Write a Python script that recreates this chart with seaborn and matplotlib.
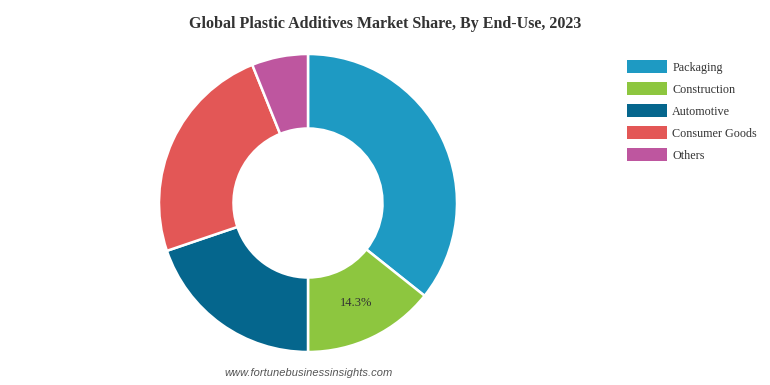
import matplotlib
matplotlib.use("Agg")
import matplotlib.pyplot as plt
from matplotlib.patches import Patch
import numpy as np
import seaborn as sns

categories = ["Packaging", "Construction", "Automotive", "Consumer Goods", "Others"]
shares = [35.7, 14.3, 19.8, 24.1, 6.1]
shown_labels = ["", "14.3%", "", "", ""]
colors = ["#1E9AC3", "#8DC63F", "#05668D", "#E35756", "#BE569F"]

sns.set_theme(style="white")
plt.rcParams["font.family"] = ["Liberation Serif", "DejaVu Serif"]

fig = plt.figure(figsize=(7.7, 3.85), dpi=100)
fig.patch.set_facecolor("white")

ax = fig.add_axes([(308 - 149) / 770, (385 - 352) / 385, 298 / 770, 298 / 385])
palette = sns.color_palette(colors)

wedges, _ = ax.pie(
    shares,
    colors=palette,
    startangle=90,
    counterclock=False,
    radius=1.0,
    wedgeprops=dict(width=0.5, edgecolor="white", linewidth=1.8),
)
for w, lab in zip(wedges, shown_labels):
    if lab:
        ang = np.deg2rad((w.theta1 + w.theta2) / 2)
        r = 0.745
        ax.text(r * np.cos(ang), r * np.sin(ang), lab, ha="center", va="center",
                fontsize=9, color="#333333")
ax.set_xlim(-1, 1)
ax.set_ylim(-1, 1)
ax.set_aspect("equal")
ax.axis("off")

handles = [Patch(facecolor=c, edgecolor="none") for c in palette]
fig.legend(
    handles, categories,
    loc="upper left",
    bbox_to_anchor=(627 / 770, 1 - 60 / 385),
    frameon=False,
    fontsize=8.7,
    handlelength=3.3,
    handleheight=1.28,
    handletextpad=0.45,
    labelspacing=0.70,
    borderpad=0,
    borderaxespad=0,
    labelcolor="#333333",
)

fig.text(385 / 770, 1 - 24 / 385, "Global Plastic Additives Market Share, By End-Use, 2023",
         ha="center", va="center", fontsize=11.5, fontweight="bold", color="#333333")
fig.text(309 / 770, 1 - 373 / 385, "www.fortunebusinessinsights.com",
         ha="center", va="center", fontsize=8, style="italic", color="#555555",
         family=["Liberation Sans", "DejaVu Sans"])

fig.savefig("out.png", dpi=100, facecolor="white")
